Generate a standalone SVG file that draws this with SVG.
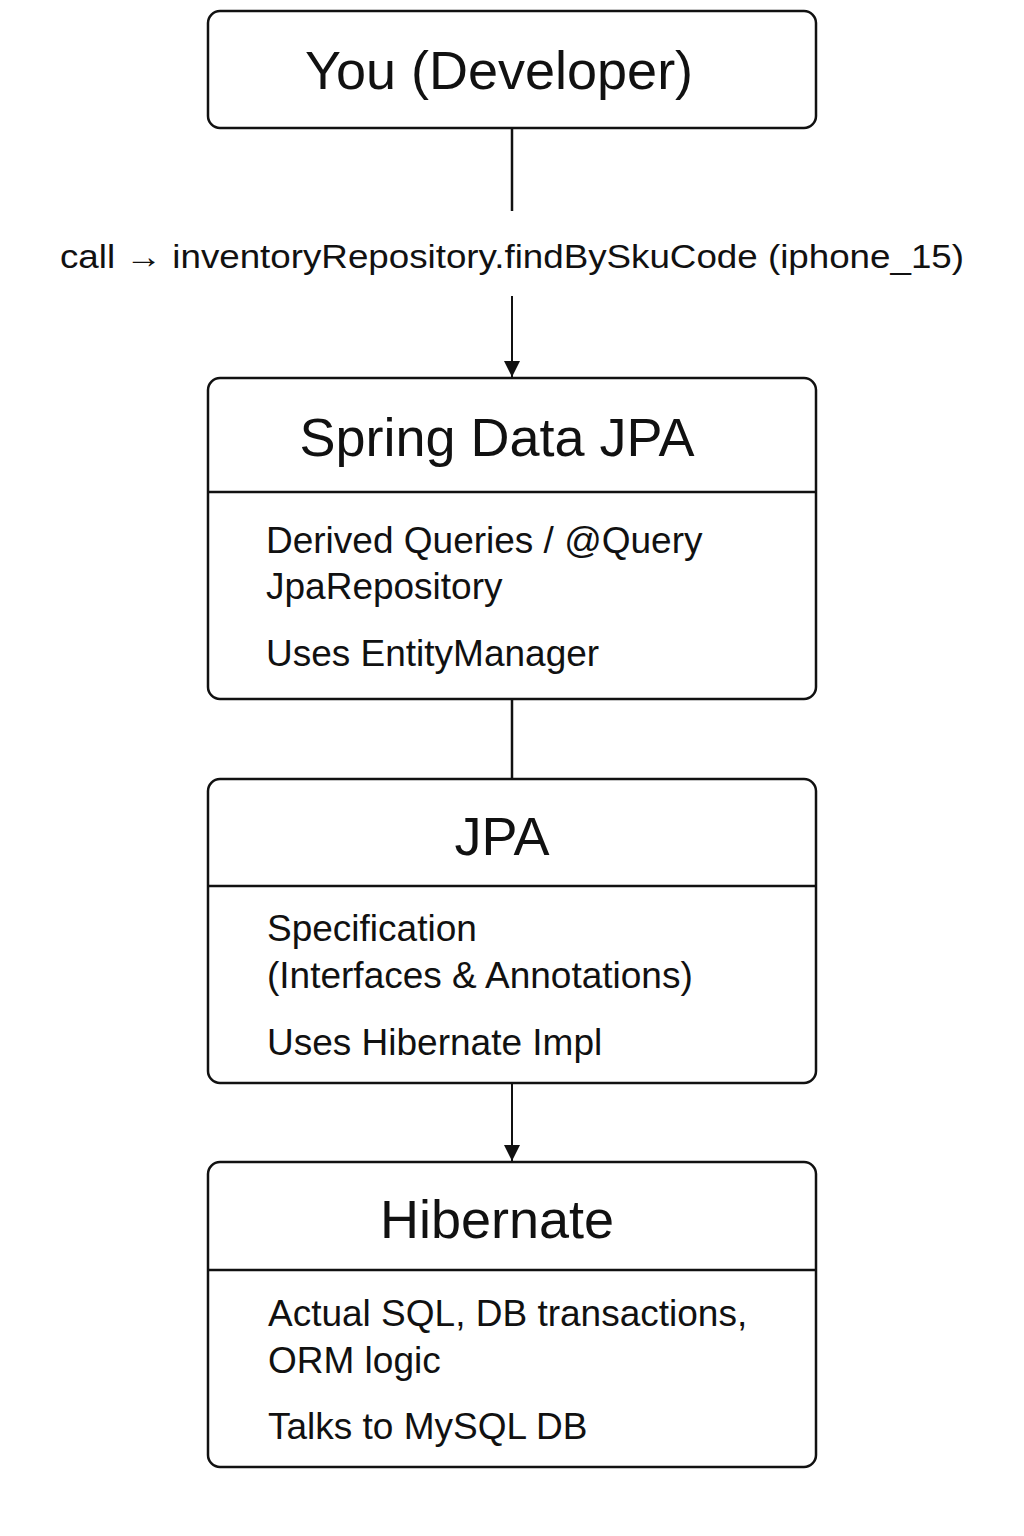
<svg xmlns="http://www.w3.org/2000/svg" width="1024" height="1536" viewBox="0 0 1024 1536">
<style>
.box{fill:#fff;stroke:#111;stroke-width:2.5}
.div{stroke:#111;stroke-width:2.5}
.t{font-family:"Liberation Sans",Arial,sans-serif;fill:#111}
.title{font-size:54px;text-anchor:middle}
.body{font-size:37px}
.lbl{font-size:34px}
.c{stroke:#111;stroke-width:2.5;fill:none}
</style>
<defs><marker id="ah" markerWidth="16" markerHeight="18" refX="16" refY="8" orient="auto" markerUnits="userSpaceOnUse" viewBox="0 0 16 16"><path d="M0,0 L16,8 L0,16 z" fill="#111"/></marker></defs>
<rect width="1024" height="1536" fill="#fff"/>
<g id="connectors">
<line class="c" x1="512" y1="128" x2="512" y2="211"/>
<line class="c" x1="512" y1="296" x2="512" y2="377" marker-end="url(#ah)" style="stroke-width:2"/>
<line class="c" x1="512" y1="699" x2="512" y2="779"/>
<line class="c" x1="512" y1="1083" x2="512" y2="1161" marker-end="url(#ah)" style="stroke-width:2"/>
<text class="t lbl" x="512" y="268" text-anchor="middle" textLength="904" lengthAdjust="spacingAndGlyphs">call → inventoryRepository.findBySkuCode (iphone_15)</text>
</g>
<g id="dev">
<rect class="box" x="208" y="11" width="608" height="117" rx="12"/>
<text class="t title" x="499" y="89">You (Developer)</text>
</g>
<g id="springdata">
<rect class="box" x="208" y="378" width="608" height="321" rx="12"/>
<line class="div" x1="208" y1="492" x2="816" y2="492"/>
<text class="t title" x="497" y="456">Spring Data JPA</text>
<text class="t body" x="266" y="553">Derived Queries / @Query</text>
<text class="t body" x="266" y="599">JpaRepository</text>
<text class="t body" x="266" y="666">Uses EntityManager</text>
</g>
<g id="jpa">
<rect class="box" x="208" y="779" width="608" height="304" rx="12"/>
<line class="div" x1="208" y1="886" x2="816" y2="886"/>
<text class="t title" x="502" y="855">JPA</text>
<text class="t body" x="267" y="941">Specification</text>
<text class="t body" x="267" y="988">(Interfaces &amp; Annotations)</text>
<text class="t body" x="267" y="1055">Uses Hibernate Impl</text>
</g>
<g id="hibernate">
<rect class="box" x="208" y="1162" width="608" height="305" rx="12"/>
<line class="div" x1="208" y1="1270" x2="816" y2="1270"/>
<text class="t title" x="497" y="1238">Hibernate</text>
<text class="t body" x="268" y="1326">Actual SQL, DB transactions,</text>
<text class="t body" x="268" y="1373">ORM logic</text>
<text class="t body" x="268" y="1439">Talks to MySQL DB</text>
</g>
</svg>
